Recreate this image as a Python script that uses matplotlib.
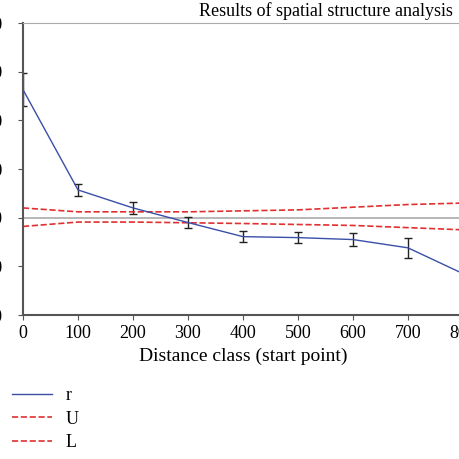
import matplotlib
matplotlib.use("Agg")
import matplotlib.pyplot as plt
from matplotlib.lines import Line2D

plt.rcParams['font.family'] = ['Liberation Serif', 'DejaVu Serif']

dist = [0, 100, 200, 300, 400, 500, 600, 700, 800]
r = [0.263, 0.057, 0.020, -0.010, -0.039, -0.041, -0.045, -0.062, -0.115]
r_err = [0.034, 0.012, 0.012, 0.011, 0.012, 0.012, 0.013, 0.020, 0.025]
u_x = [0, 100, 300, 500, 700, 800]
U = [0.020, 0.012, 0.012, 0.016, 0.027, 0.030]
l_x = [0, 100, 200, 400, 600, 800]
L = [-0.018, -0.009, -0.009, -0.012, -0.016, -0.025]
yticks = [-0.2, -0.1, 0.0, 0.1, 0.2, 0.3, 0.4]

W = H = 459
fig = plt.figure(figsize=(W/100, H/100), dpi=100)
ax = fig.add_axes([23/W, 1-315/H, 440/W, 292/H])
ax.axhline(0, color='#aaaaaa', lw=1.2)
ax.errorbar(dist, r, yerr=r_err, color='#3a4fa8', lw=1, ecolor='#222222', elinewidth=1, capsize=3)
ax.plot(u_x, U, color='#e03030', ls='--', lw=1.2)
ax.plot(l_x, L, color='#e03030', ls='--', lw=1.2)
ax.set_xlim(0, 800)
ax.set_ylim(-0.2, 0.4)
ax.set_yticks(yticks)
ax.set_yticklabels(['%.2f' % v for v in yticks])
ax.set_xticks(dist)
ax.tick_params(labelsize=13, color='#555555')
ax.tick_params(axis='y', pad=11)
for s in ['left', 'bottom']:
    ax.spines[s].set_color('#555555')
    ax.spines[s].set_linewidth(1.5)
ax.spines['top'].set_color('#aaaaaa')
ax.spines['right'].set_visible(False)
ax.set_xlabel('Distance class (start point)', fontsize=14)
fig.text(326/W, 1-11/H, 'Results of spatial structure analysis', fontsize=13, ha='center', va='center')

handles = [Line2D([], [], color='#3a4fa8', lw=1),
           Line2D([], [], color='#e03030', ls='--', lw=1.2),
           Line2D([], [], color='#e03030', ls='--', lw=1.2)]
fig.legend(handles, ['r', 'U', 'L'], loc='upper left', bbox_to_anchor=(0.01, 1-380/H),
           frameon=False, fontsize=13, handlelength=2.2, labelspacing=0.35, borderaxespad=0)
fig.savefig('out.png', dpi=100)
